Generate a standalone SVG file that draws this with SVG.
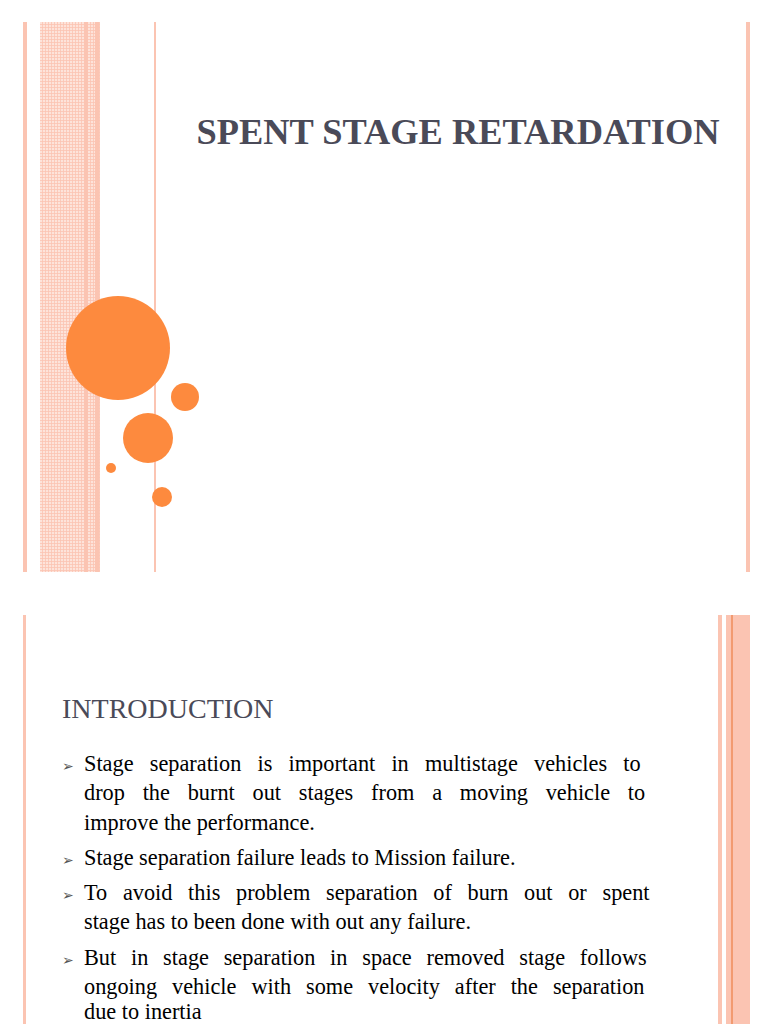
<svg xmlns="http://www.w3.org/2000/svg" width="768" height="1024" viewBox="0 0 768 1024">
<defs>
<pattern id="g" width="3" height="3" patternUnits="userSpaceOnUse"><rect width="3" height="3" fill="#fde3da"/><path d="M0 0.5H3M0.5 0V3" stroke="#fbc4b2" stroke-width="0.8"/></pattern>
<style>.s{fill:#fbc4b2}.o{fill:#fd8a3e}.t{font-family:"Liberation Serif",serif;fill:#000}</style>
</defs>
<rect width="768" height="1024" fill="#fff"/>
<g id="slide1">
<rect x="23" y="22" width="4" height="550" class="s"/>
<rect x="40" y="22" width="60" height="550" fill="url(#g)"/>
<rect x="84" y="22" width="4" height="550" class="s"/>
<rect x="95" y="22" width="4" height="550" class="s"/>
<rect x="154" y="22" width="2" height="550" class="s"/>
<rect x="746" y="22" width="4" height="550" class="s"/>
<circle cx="118" cy="348" r="52" class="o"/>
<circle cx="185" cy="397" r="14" class="o"/>
<circle cx="148" cy="438" r="25" class="o"/>
<circle cx="111" cy="468" r="5" class="o"/>
<circle cx="162" cy="497" r="10" class="o"/>
<text x="458" y="144" text-anchor="middle" font-family="Liberation Serif,serif" font-weight="bold" font-size="36" textLength="523" lengthAdjust="spacingAndGlyphs" fill="#4a4a58">SPENT STAGE RETARDATION</text>
</g>
<g id="slide2">
<rect x="23" y="615" width="3" height="409" class="s"/>
<rect x="718" y="615" width="4" height="409" class="s"/>
<rect x="726" y="615" width="24" height="409" class="s"/>
<rect x="731" y="615" width="2" height="409" fill="#f29a70"/>
<text x="62" y="718" font-family="Liberation Serif,serif" font-size="28" fill="#4a4a58">INTRODUCTION</text>
<g class="t" font-size="22.3">
<text x="62" y="771" font-size="14" fill="#555">➢</text>
<text x="84" y="771" word-spacing="10.6">Stage separation is important in multistage vehicles to</text>
<text x="84" y="800" word-spacing="12.2">drop the burnt out stages from a moving vehicle to</text>
<text x="84" y="830">improve the performance.</text>
<text x="62" y="865" font-size="14" fill="#555">➢</text>
<text x="84" y="865">Stage separation failure leads to Mission failure.</text>
<text x="62" y="900" font-size="14" fill="#555">➢</text>
<text x="84" y="900" word-spacing="10.1">To avoid this problem separation of burn out or spent</text>
<text x="84" y="929">stage has to been done with out any failure.</text>
<text x="62" y="965" font-size="14" fill="#555">➢</text>
<text x="84" y="965" word-spacing="9.2">But in stage separation in space removed stage follows</text>
<text x="84" y="994" word-spacing="9.4">ongoing vehicle with some velocity after the separation</text>
<text x="84" y="1019">due to inertia</text>
</g>
</g>
</svg>
